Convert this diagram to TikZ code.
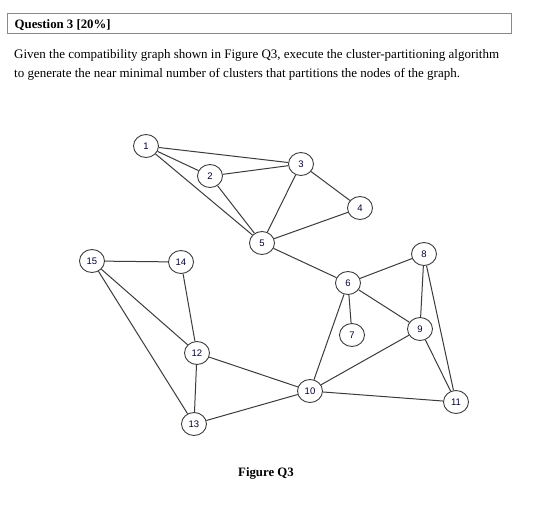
\documentclass[tikz,border=0pt]{standalone}
\usepackage{fontspec}
\setmainfont{Liberation Serif}
\newfontfamily\nodefont{Liberation Sans}
\usetikzlibrary{shapes.geometric}
\definecolor{edgec}{HTML}{3c3c3c}
\definecolor{boxc}{HTML}{8a8a8a}
\begin{document}
\begin{tikzpicture}[x=1pt,y=-1pt,
  vert/.style={draw=edgec,line width=0.9pt,ellipse,fill=white,minimum width=25pt,minimum height=23pt,inner sep=0pt,font=\nodefont\fontsize{9.5}{10}\selectfont,text=black!80!blue},
  edge/.style={draw=edgec,line width=1pt},
  txt/.style={anchor=base west,inner sep=0pt,font=\fontsize{13}{15}\selectfont}]
\useasboundingbox (0,0) rectangle (539,531);
\fill[white] (0,0) rectangle (539,531);
\draw[boxc,line width=1pt] (7.5,13.5) rectangle (511.5,33);
\node[txt,font=\bfseries\fontsize{12.8}{15}\selectfont] (q) at (14.5,28) {Question 3 [20\%]};
\node[txt] (l1) at (14,58) {Given the compatibility graph shown in Figure Q3, execute the cluster-partitioning algorithm};
\node[txt] (l2) at (14,77) {to generate the near minimal number of clusters that partitions the nodes of the graph.};
\node[anchor=base,inner sep=0pt,font=\bfseries\fontsize{12.8}{15}\selectfont] (fig) at (266,476) {Figure Q3};
\node[vert] (n1) at (146,146) {1};
\node[vert] (n2) at (210,176) {2};
\node[vert] (n3) at (301,164) {3};
\node[vert] (n4) at (360,208) {4};
\node[vert] (n5) at (262,243) {5};
\node[vert] (n6) at (348,283) {6};
\node[vert] (n7) at (352,335) {7};
\node[vert] (n8) at (424,254) {8};
\node[vert] (n9) at (420,329) {9};
\node[vert] (n10) at (310,391) {10};
\node[vert] (n11) at (456,402) {11};
\node[vert] (n12) at (197,353) {12};
\node[vert] (n13) at (194,424) {13};
\node[vert] (n14) at (181,262) {14};
\node[vert] (n15) at (92,261) {15};
\foreach \a/\b in {1/3,1/2,1/5,2/3,2/5,3/5,3/4,4/5,5/6,6/8,6/7,6/9,6/10,8/9,8/11,9/11,9/10,10/11,10/12,10/13,12/13,12/14,12/15,13/15,14/15}
  \draw[edge] (n\a) -- (n\b);
\end{tikzpicture}
\end{document}
